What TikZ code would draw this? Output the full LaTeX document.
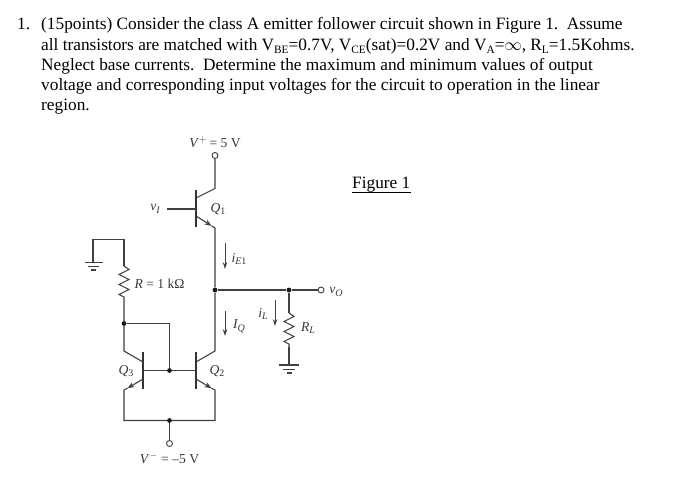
\documentclass[tikz,border=0pt]{standalone}
\usepackage{fontspec}
\setmainfont{Liberation Serif}
\usetikzlibrary{arrows.meta}
\tikzset{
  x=1pt,y=-1pt,
  wire/.style={draw=black!75,line width=1.1pt,line join=miter},
  bar/.style={draw=black!80,line width=1.6pt},
  dotn/.style={circle,fill=black!90,inner sep=0pt,minimum size=4.8pt},
  term/.style={circle,draw=black!75,fill=white,line width=0.9pt,inner sep=0pt,minimum size=6pt},
  emit/.style={wire,-{Stealth[length=7pt,width=5.4pt]}},
  cur/.style={draw=black!75,line width=0.8pt,-{Stealth[length=7pt,width=4.6pt]}},
  txt/.style={anchor=base west,inner sep=0pt,font=\fontsize{17.3}{20}\selectfont},
  lbl/.style={inner sep=0pt,text=black!78,font=\fontsize{13.6}{15}\selectfont},
  gnd1/.style={wire,line width=1.1pt},
}
\newcommand{\ssb}[1]{\raisebox{-2.8pt}{\fontsize{11.3}{13}\selectfont #1}}
\newcommand{\lsb}[1]{\raisebox{-2.8pt}{\fontsize{10}{12}\selectfont #1}}
\begin{document}
\begin{tikzpicture}
\useasboundingbox (0,0) rectangle (679,494);
\fill[white] (0,0) rectangle (679,494);
% problem text
\node[txt] (num) at (17,30) {1.};
\node[txt] (l1) at (41,30) {(15points) Consider the class A emitter follower circuit shown in Figure 1.\ \ Assume};
\node[txt] (l2) at (41,50.5) {all transistors are matched with V\ssb{BE}=0.7V, V\ssb{CE}(sat)=0.2V and V\ssb{A}=$\infty$, R\ssb{L}=1.5Kohms.};
\node[txt] (l3) at (41,70.7) {Neglect base currents.\ \ Determine the maximum and minimum values of output};
\node[txt] (l4) at (41,90.7) {voltage and corresponding input voltages for the circuit to operation in the linear};
\node[txt] (l5) at (41,110.7) {region.};
\node[txt] (fig) at (352,189) {Figure 1};
\draw[draw=black,line width=0.8pt] ([yshift=-3pt]fig.base west) -- ([yshift=-3pt]fig.base east);
% key points
\node[term] (vp) at (215,155.5) {};
\node[dotn] (na) at (215,290) {};
\node[dotn] (nb) at (289,290) {};
\node[term] (vo) at (321,290) {};
\node[dotn] (nc) at (124,323.5) {};
\node[dotn] (nd) at (169.5,370.5) {};
\node[dotn] (ne) at (169.5,420.5) {};
\node[term] (vm) at (169.5,443.5) {};
\coordinate (q1c) at (215,188.5);
\coordinate (q1cb) at (196,198);
\coordinate (q1e) at (215,228);
\coordinate (q1eb) at (196,216);
\coordinate (q1etip) at (211.5,225.8);
\coordinate (q1b) at (196,209);
\coordinate (vi) at (166.5,209);
\coordinate (q2c) at (215,351);
\coordinate (q2cb) at (196,362);
\coordinate (q2e) at (215,390);
\coordinate (q2eb) at (196,379);
\coordinate (q2etip) at (211.5,388.2);
\coordinate (q2b) at (196,370.5);
\coordinate (q3c) at (124,351);
\coordinate (q3cb) at (143,362);
\coordinate (q3e) at (124,390);
\coordinate (q3eb) at (143,379);
\coordinate (q3etip) at (127.5,388.2);
\coordinate (q3b) at (143,370.5);
\coordinate (bl) at (124,420.5);
\coordinate (br) at (215,420.5);
\coordinate (rt) at (124,266);
\coordinate (rb) at (124,300);
\coordinate (rlt) at (289,313);
\coordinate (rlb) at (289,347);
\coordinate (gr) at (289,365);
\coordinate (gl) at (93,262.5);
\coordinate (tl) at (93,239.7);
\coordinate (tr) at (124,239.7);
\coordinate (cr) at (169.5,323.5);
% Q1
\draw[wire] (vp) -- (q1c) -- (q1cb);
\draw[bar] (196,190) -- (196,227);
\draw[wire] (vi) -- (q1b);
\draw[emit] (q1eb) -- (q1etip);
\draw[wire] (q1etip) -- (q1e) -- (na);
% output
\draw[wire] (na) -- (nb) -- (vo);
\draw[wire] (nb) -- (rlt);
\draw[wire] (rlt) -- ++(5,3.5) -- ++(-10,5) -- ++(10,5) -- ++(-10,5) -- ++(10,5) -- ++(-10,5) -- ++(5,2.5) -- (rlb);
\draw[wire] (rlb) -- (gr);
\draw[gnd1] (279,365) -- (299,365) (283,369.5) -- (295,369.5) (286.5,373) -- (291.5,373);
% R branch
\draw[wire] (gl) -- (tl) -- (tr) -- (rt);
\draw[gnd1] (85,262.5) -- (103,262.5) (88,266.5) -- (99,266.5) (90.5,270) -- (95.5,270);
\draw[wire] (rt) -- ++(5,3.5) -- ++(-10,5) -- ++(10,5) -- ++(-10,5) -- ++(10,5) -- ++(-10,5) -- ++(5,2.5) -- (rb);
\draw[wire] (rb) -- (nc) -- (q3c) -- (q3cb);
\draw[wire] (nc) -- (cr) -- (nd);
% Q3, Q2
\draw[bar] (143,352) -- (143,389);
\draw[bar] (196,352) -- (196,389);
\draw[wire] (q3b) -- (nd) -- (q2b);
\draw[wire] (na) -- (q2c) -- (q2cb);
\draw[emit] (q2eb) -- (q2etip);
\draw[wire] (q2etip) -- (q2e) -- (br) -- (ne);
\draw[emit] (q3eb) -- (q3etip);
\draw[wire] (q3etip) -- (q3e) -- (bl) -- (ne);
\draw[wire] (ne) -- (vm);
% current arrows
\coordinate (a1) at (225,243); \coordinate (a2) at (225,269);
\coordinate (b1) at (225,311); \coordinate (b2) at (225,336);
\coordinate (c1) at (275,300); \coordinate (c2) at (275,326);
\draw[cur] (a1) -- (a2);
\draw[cur] (b1) -- (b2);
\draw[cur] (c1) -- (c2);
% labels
\node[lbl] (tvp) at (215,142) {\textit{V}$^{+}$\,= 5 V};
\node[lbl] (tvi) at (155,209) {\textit{v\lsb{I}}};
\node[lbl] (tq1) at (218,209) {\textit{Q}\lsb{1}};
\node[lbl] (tie) at (239,259) {\textit{i\lsb{E}}\lsb{1}};
\node[lbl,anchor=west] (tr1) at (134.5,283.5) {\textit{R} = 1 kΩ};
\node[lbl] (tvo) at (336,292) {\textit{v\lsb{O}}};
\node[lbl] (tiq) at (239,326) {\textit{I\lsb{Q}}};
\node[lbl] (til) at (263,314) {\textit{i\lsb{L}}};
\node[lbl] (trl) at (308,328) {\textit{R\lsb{L}}};
\node[lbl] (tq3) at (126,371) {\textit{Q}\lsb{3}};
\node[lbl] (tq2) at (217,371) {\textit{Q}\lsb{2}};
\node[lbl] (tvm) at (169.5,458) {\textit{V}$^{-}$ = –5 V};
\end{tikzpicture}
\end{document}
